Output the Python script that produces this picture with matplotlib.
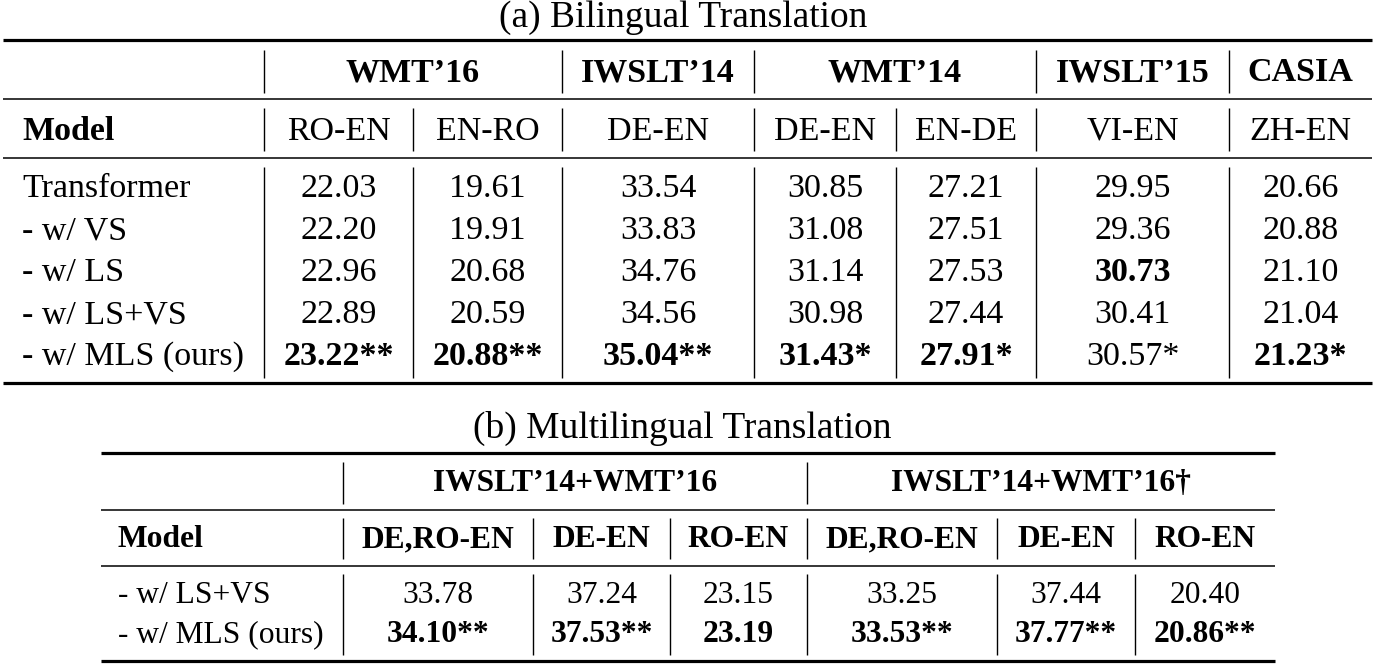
import matplotlib
matplotlib.use("Agg")
import matplotlib.pyplot as plt

# ---------------- data ----------------
title_a = "(a) Bilingual Translation"
groups_a = ["WMT’16", "IWSLT’14", "WMT’14", "IWSLT’15", "CASIA"]
group_span_a = [(0, 2), (2, 3), (3, 5), (5, 6), (6, 7)]
pairs_a = ["RO-EN", "EN-RO", "DE-EN", "DE-EN", "EN-DE", "VI-EN", "ZH-EN"]
models_a = ["Transformer", "- w/ VS", "- w/ LS", "- w/ LS+VS", "- w/ MLS (ours)"]
transformer_a = [22.03, 19.61, 33.54, 30.85, 27.21, 29.95, 20.66]
vs_a = [22.20, 19.91, 33.83, 31.08, 27.51, 29.36, 20.88]
ls_a = [22.96, 20.68, 34.76, 31.14, 27.53, 30.73, 21.10]
lsvs_a = [22.89, 20.59, 34.56, 30.98, 27.44, 30.41, 21.04]
mls_a = [23.22, 20.88, 35.04, 31.43, 27.91, 30.57, 21.23]
sig_a = ["**", "**", "**", "*", "*", "*", "*"]

title_b = "(b) Multilingual Translation"
groups_b = ["IWSLT’14+WMT’16", "IWSLT’14+WMT’16†"]
group_span_b = [(0, 3), (3, 6)]
pairs_b = ["DE,RO-EN", "DE-EN", "RO-EN", "DE,RO-EN", "DE-EN", "RO-EN"]
models_b = ["- w/ LS+VS", "- w/ MLS (ours)"]
lsvs_b = [33.78, 37.24, 23.15, 33.25, 37.44, 20.40]
mls_b = [34.10, 37.53, 23.19, 33.53, 37.77, 20.86]
sig_b = ["**", "**", "", "**", "**", "**"]

# ---------------- layout ----------------
W, H = 1377, 666
fig = plt.figure(figsize=(W / 100, H / 100), dpi=100)
ax = fig.add_axes([0, 0, 1, 1])
ax.set_xlim(0, W)
ax.set_ylim(H, 0)
ax.axis("off")

FONT = "Liberation Serif"
TFS = 27
THICK = 2.3
THIN = 1.1
VLW = 1.0


def hline(y, x0, x1, lw):
    ax.plot([x0, x1], [y, y], color="black", lw=lw, solid_capstyle="butt")


def vline(x, y0, y1):
    ax.plot([x, x], [y0, y1], color="black", lw=VLW, solid_capstyle="butt")


def txt(x, y, s, size, bold=False, ha="center"):
    ax.text(x, y, s, fontsize=size, family=FONT, ha=ha, va="baseline",
            fontweight="bold" if bold else "normal", color="black")


def draw_table(title, title_x, title_y, left, right, model_x, seps, rules, rows_y,
               group_sep_idx, groups, spans, pairs, models, data, sigs,
               pair_bold, header_y, vseg, fs):
    txt(title_x, title_y, title, TFS)
    hline(rules[0], left, right, THICK)
    hline(rules[1], left, right, THIN)
    hline(rules[2], left, right, THIN)
    hline(rules[3], left, right, THICK)
    edges = list(seps) + [right]
    centers = [(edges[i] + edges[i + 1]) / 2 for i in range(len(edges) - 1)]
    for i, x in enumerate(seps):
        if i in group_sep_idx:
            vline(x, *vseg[0])
        vline(x, *vseg[1])
        vline(x, *vseg[2])
    for g, (a, b) in zip(groups, spans):
        gx = (edges[a] + edges[b]) / 2
        txt(gx, header_y[0], g, fs, bold=True)
    txt(model_x, header_y[1], "Model", fs, bold=True, ha="left")
    for c, p in zip(centers, pairs):
        txt(c, header_y[1], p, fs, bold=pair_bold)
    ncol = len(pairs)
    best = [max(range(len(data)), key=lambda r: data[r][j]) for j in range(ncol)]
    for r, (m, row) in enumerate(zip(models, data)):
        y = rows_y[r]
        txt(model_x, y, m, fs, ha="left")
        for j in range(ncol):
            s = f"{row[j]:.2f}"
            if r == len(data) - 1:
                s += sigs[j]
            txt(centers[j], y, s, fs, bold=(best[j] == r))


# table (a)
draw_table(title_a, 683, 27, 3, 1372, 22,
           [264, 413, 562, 754, 896, 1036, 1229],
           [40, 99, 158, 383],
           [197, 239, 281, 323, 365],
           {0, 2, 3, 5, 6}, groups_a, group_span_a, pairs_a, models_a,
           [transformer_a, vs_a, ls_a, lsvs_a, mls_a], sig_a, False,
           [81, 140], [(50, 93), (108, 151), (167, 378)], 24.5)

# table (b)
draw_table(title_b, 682, 438, 101, 1275, 118,
           [343, 533, 670, 807, 997, 1135],
           [453, 510, 566, 661],
           [603, 642],
           {0, 3}, groups_b, group_span_b, pairs_b, models_b,
           [lsvs_b, mls_b], sig_b, True,
           [491, 547], [(462, 504), (518, 559), (574, 655)], 22.7)

fig.savefig("out.png", dpi=100)
